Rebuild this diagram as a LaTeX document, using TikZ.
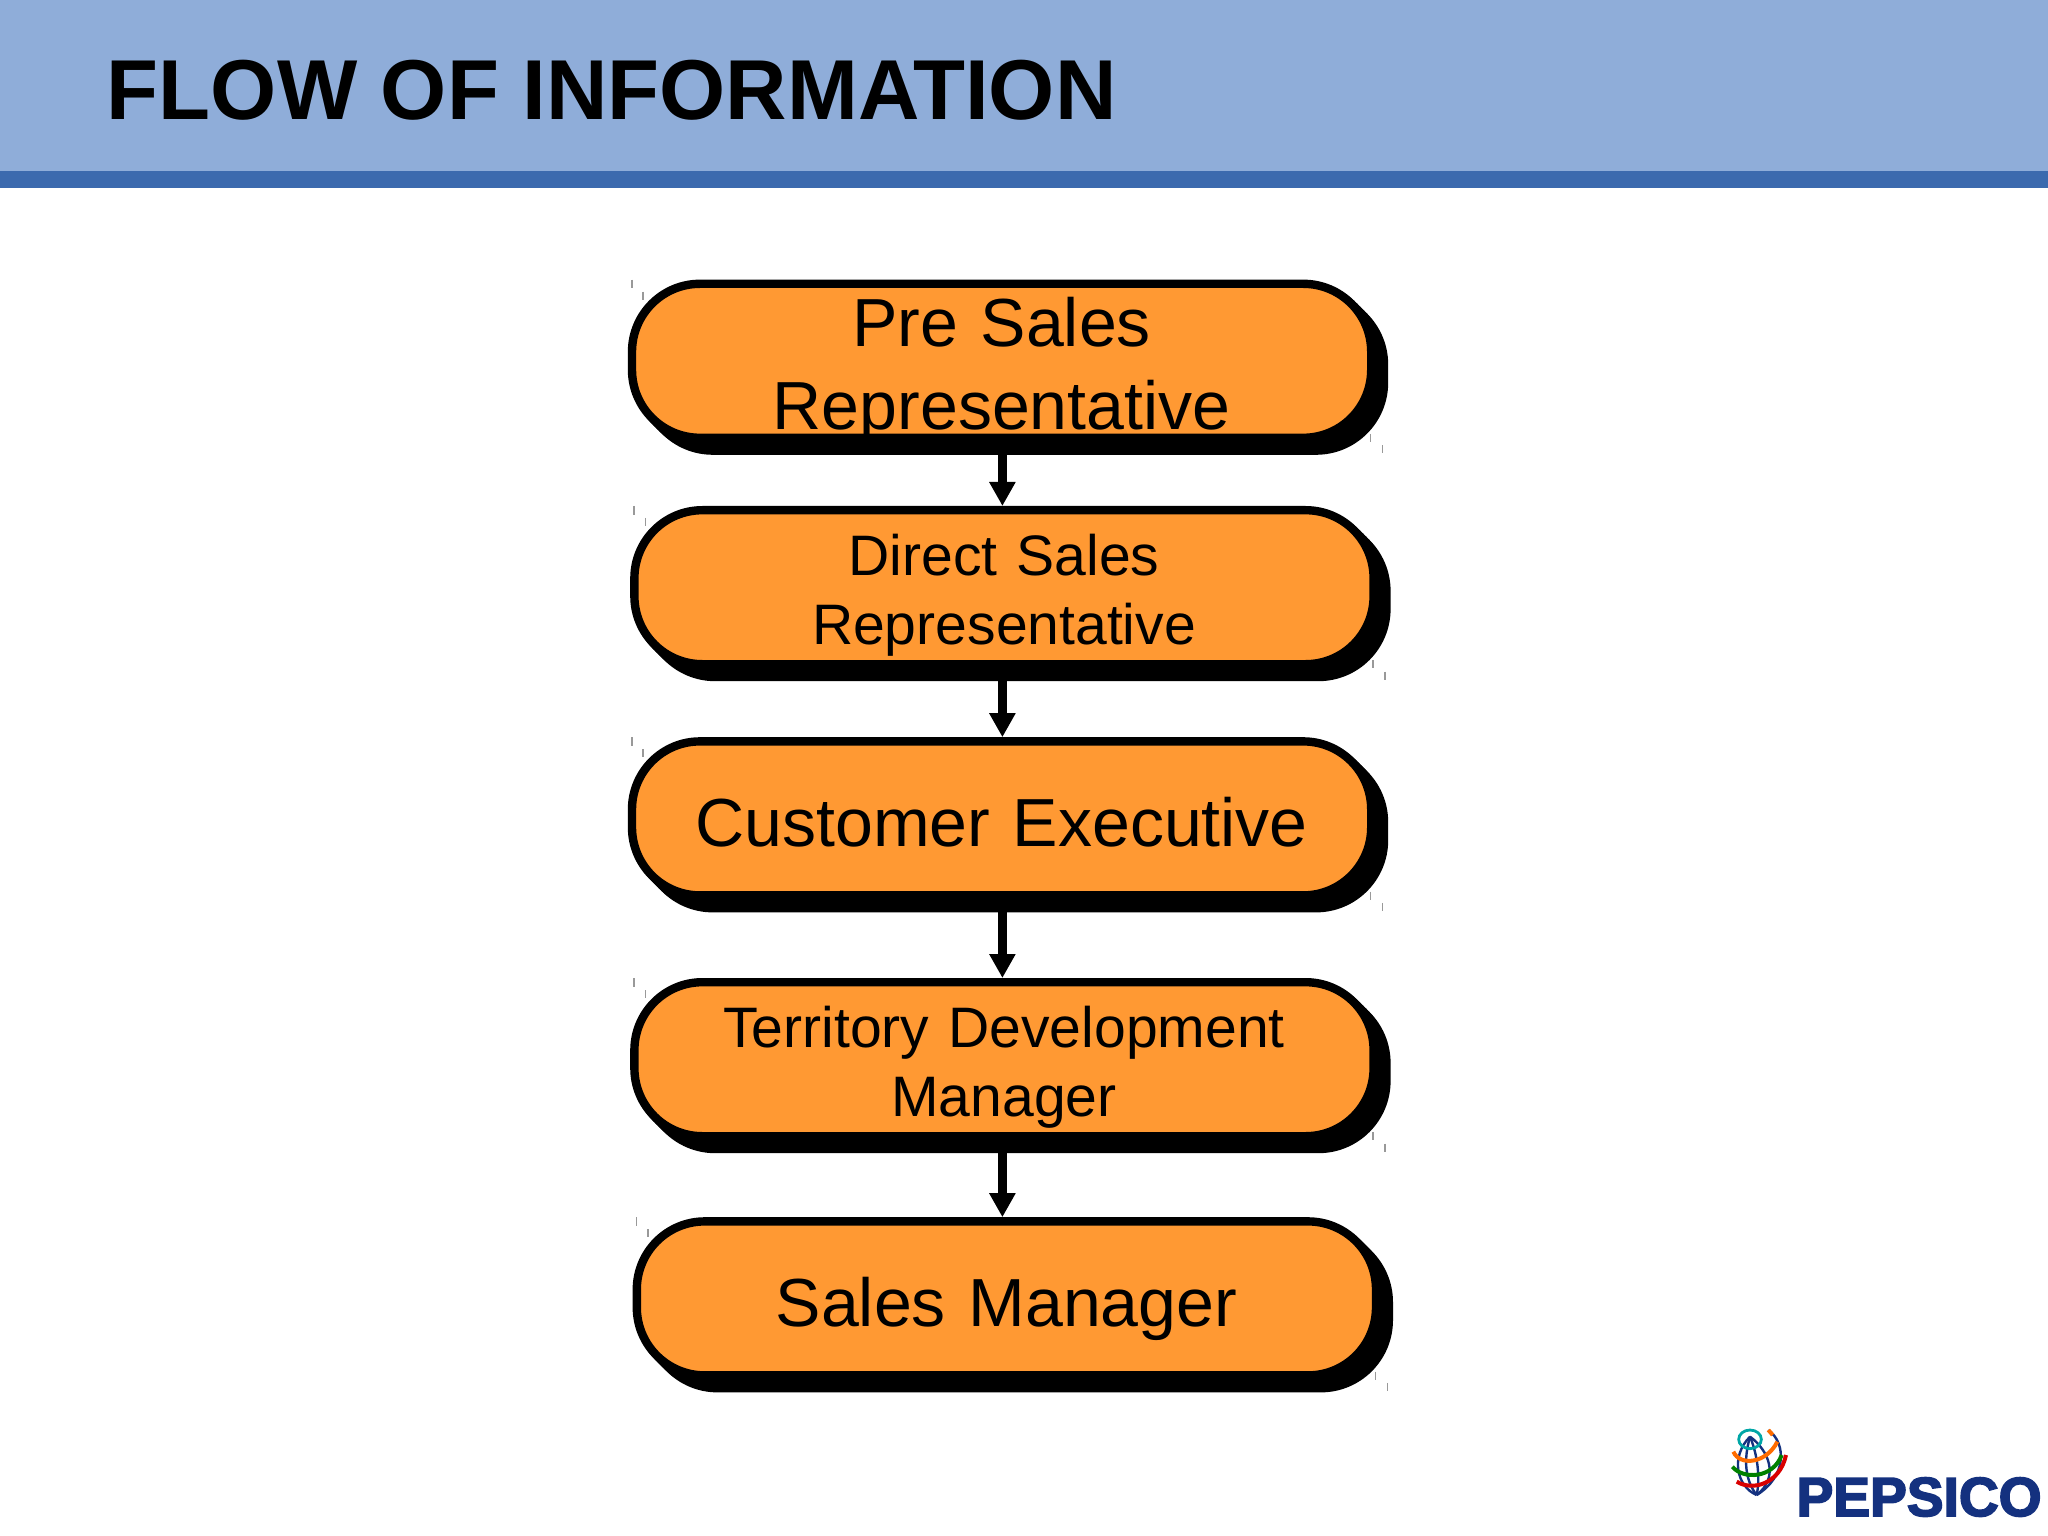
\documentclass[tikz,border=0pt]{standalone}
\usepackage{fontspec}
\setmainfont{Liberation Sans}
\newfontfamily\logofont{Liberation Sans}[BoldFeatures={FakeBold=3}]
\usetikzlibrary{arrows.meta,shadows}

\definecolor{bannerlight}{HTML}{8FADD9}
\definecolor{bannerdark}{HTML}{3C6AAE}
\definecolor{boxorange}{HTML}{FF9933}
\definecolor{logonavy}{HTML}{14317F}

\tikzset{
  boxshadow/.style={general shadow={fill=black,draw=black,shadow xshift=#1,shadow yshift=-#1}},
  flowbox/.style={rectangle,draw=black,fill=boxorange,line width=0.105cm,rounded corners=0.85cm,
    minimum width=9.24cm,minimum height=1.925cm,inner sep=0pt,text width=8.6cm,align=center,
    boxshadow=0.04cm,boxshadow=0.08cm,boxshadow=0.12cm,boxshadow=0.16cm},
  bigtext/.style={font=\fontsize{24.2}{29.5}\selectfont},
  smalltext/.style={font=\fontsize{20.3}{24.5}\selectfont},
  tworows/.style={text height=0pt,text depth=#1},
  onerow/.style={text height=0.69cm,text depth=0pt},
  flowarrow/.style={line width=0.1125cm,-{Triangle[width=0.31cm,length=0.3cm]}},
  tickmark/.style={draw=black!40,line width=0.02cm},
}

\begin{document}
\begin{tikzpicture}
  \useasboundingbox (0,0) rectangle (25.6,-19.2);

  % banner
  \fill[bannerlight] (0,0) rectangle (25.6,-2.14);
  \fill[bannerdark] (0,-2.14) rectangle (25.6,-2.35);
  \node[anchor=base west,inner sep=0pt,font=\fontsize{30.25}{36}\selectfont\bfseries] (title) at (1.33,-1.5) {FLOW OF INFORMATION};

  % boxes
  \node[flowbox,bigtext,tworows=0.35cm]   (pre)       at (12.52,-4.51)  {Pre Sales\\Representative};
  \node[flowbox,smalltext,tworows=0.3cm]  (direct)    at (12.55,-7.34)  {Direct Sales\\Representative};
  \node[flowbox,bigtext,onerow]           (customer)  at (12.52,-10.23) {Customer Executive};
  \node[flowbox,smalltext,tworows=0.3cm]  (territory) at (12.55,-13.24) {Territory Development\\Manager};
  \node[flowbox,bigtext,onerow]           (manager)   at (12.58,-16.23) {Sales Manager};

  % arrows
  \coordinate (axis) at (12.53,0);
  \draw[flowarrow] (pre.south -| axis) -- (direct.north -| axis);
  \draw[flowarrow] (direct.south -| axis) -- (customer.north -| axis);
  \draw[flowarrow] (customer.south -| axis) -- (territory.north -| axis);
  \draw[flowarrow] (territory.south -| axis) -- (manager.north -| axis);

  % small marks at the corners
  \foreach \b in {pre,direct,customer,territory,manager} {
    \draw[tickmark] ([shift={(0.05,0)}]\b.north west) -- ++(0,-0.11);
    \draw[tickmark] ([shift={(0.19,-0.15)}]\b.north west) -- ++(0,-0.1);
    \draw[tickmark] ([shift={(-0.06,0.1)}]\b.south east) -- ++(0,-0.1);
    \draw[tickmark] ([shift={(0.09,-0.04)}]\b.south east) -- ++(0,-0.1);
  }

  % logo
  \node[anchor=base west,inner sep=0pt,text=logonavy,font=\fontsize{19.6}{24}\logofont\bfseries] (logo) at (22.45,-18.95) {PEPSICO};
  \begin{scope}[shift={(21.25,-17.5)},x=1cm/240,y=-1cm/240]
    \begin{scope}[draw=logonavy,line width=0.03cm]
      \draw (150,110) .. controls (90,170) and (110,260) .. (170,285);
      \draw (150,110) .. controls (130,180) and (135,240) .. (170,285);
      \draw (150,110) .. controls (175,170) and (180,240) .. (170,285);
      \draw (150,110) .. controls (205,150) and (240,230) .. (170,285);
      \draw (205,90) .. controls (260,130) and (260,230) .. (170,285);
    \end{scope}
    \draw[color=teal!70!cyan,line width=0.035cm] (150,118) ellipse (34 and 28);
    \draw[color=orange!85!red,line width=0.05cm] (100,155) .. controls (120,200) and (200,190) .. (232,125);
    \draw[color=orange!85!red,line width=0.05cm] (205,90) -- (218,105);
    \draw[color=green!50!black,line width=0.05cm] (97,200) .. controls (130,240) and (220,235) .. (245,165);
    \draw[color=red!85!black,line width=0.05cm] (110,245) .. controls (160,275) and (240,250) .. (258,165);
  \end{scope}
\end{tikzpicture}
\end{document}
